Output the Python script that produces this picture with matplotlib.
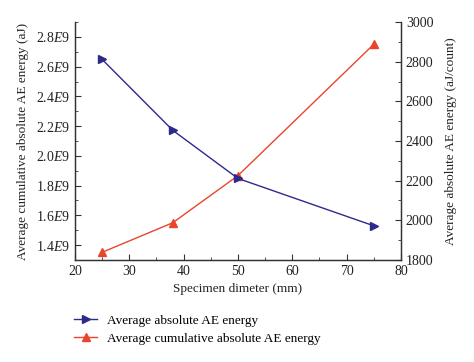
import matplotlib
matplotlib.use("Agg")
import matplotlib.pyplot as plt
from matplotlib.ticker import MultipleLocator, FixedLocator, FixedFormatter

plt.rcParams['font.family'] = ['Liberation Serif', 'DejaVu Serif']
plt.rcParams['mathtext.fontset'] = 'custom'
plt.rcParams['mathtext.rm'] = 'Liberation Serif'
plt.rcParams['mathtext.it'] = 'Liberation Serif:italic'

# data
diameter = [25, 38, 50, 75]
avg_abs_energy = [2812, 2454, 2211, 1972]          # aJ/count, right axis
avg_cum_energy = [1.351e9, 1.55e9, 1.867e9, 2.751e9]  # aJ, left axis

left_ticks = [1.4e9, 1.6e9, 1.8e9, 2.0e9, 2.2e9, 2.4e9, 2.6e9, 2.8e9]
left_labels = ["1.4", "1.6", "1.8", "2.0", "2.2", "2.4", "2.6", "2.8"]

blue = '#2e2a8c'
red = '#e8452c'
ink = '#333333'

fig = plt.figure(figsize=(4.74, 3.62), dpi=100)
ax = fig.add_axes([0.158, 0.282, 0.688, 0.657])
ax2 = ax.twinx()

l1, = ax2.plot(diameter, avg_abs_energy, color=blue, lw=1, marker='>', ms=5.5,
               label='Average absolute AE energy')
l2, = ax.plot(diameter, avg_cum_energy, color=red, lw=1, marker='^', ms=5.5,
              label='Average cumulative absolute AE energy')

ax.set_xlim(20, 80)
ax.set_ylim(1.3e9, 2.9e9)
ax2.set_ylim(1800, 3000)

ax.xaxis.set_major_locator(MultipleLocator(10))
ax.xaxis.set_minor_locator(MultipleLocator(5))
ax.yaxis.set_major_locator(FixedLocator(left_ticks))
ax.yaxis.set_major_formatter(FixedFormatter([s + r'$\mathit{E}$9' for s in left_labels]))
ax.yaxis.set_minor_locator(MultipleLocator(0.1e9))
ax2.yaxis.set_major_locator(MultipleLocator(200))
ax2.yaxis.set_minor_locator(MultipleLocator(100))

for a in (ax, ax2):
    a.spines['top'].set_visible(False)
    for s in a.spines.values():
        s.set_color(ink)
        s.set_linewidth(0.9)
    a.tick_params(which='both', direction='in', color=ink, labelsize=10, labelcolor='#222222')
    a.tick_params(which='major', length=4)
    a.tick_params(which='minor', length=2.5)
ax.tick_params(axis='y', right=False, which='both')

ax.set_xlabel('Specimen dimeter (mm)', fontsize=9.5, color='#222222', labelpad=4)
ax.set_ylabel('Average cumulative absolute AE energy (aJ)', fontsize=9.5, color='#222222', labelpad=5)
ax2.set_ylabel('Average absolute AE energy (aJ/count)', fontsize=9.5, color='#222222', labelpad=8)

fig.legend(handles=[l1, l2], loc='upper left', bbox_to_anchor=(0.143, 0.15),
           frameon=False, fontsize=9.5, handlelength=1.75, handletextpad=0.75,
           labelspacing=0.45, borderpad=0)

fig.savefig('out.png', dpi=100)
